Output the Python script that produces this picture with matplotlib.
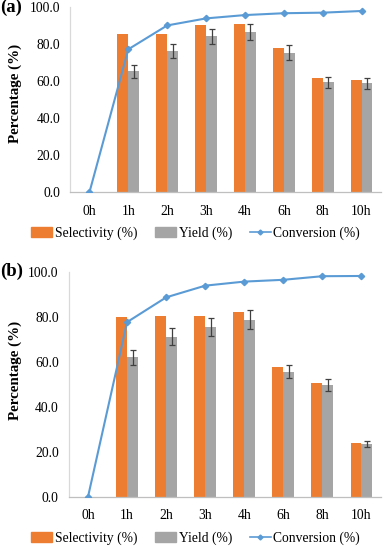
import matplotlib
matplotlib.use("Agg")
import matplotlib.pyplot as plt
import numpy as np
from matplotlib.lines import Line2D
from matplotlib.patches import Patch

plt.rcParams['font.family'] = ['Liberation Serif', 'DejaVu Serif']

categories = ['0h', '1h', '2h', '3h', '4h', '6h', '8h', '10h']

sel_a = [np.nan, 85.5, 85.5, 90.3, 90.8, 77.8, 61.8, 60.6]
yld_a = [np.nan, 65.3, 76.3, 84.3, 86.6, 75.5, 59.5, 59.0]
yld_err_a = [np.nan, 3.5, 3.9, 4.1, 4.3, 4.0, 3.0, 3.0]
conv_a = [0.0, 77.3, 90.2, 94.0, 95.8, 96.8, 97.1, 98.0]

sel_b = [np.nan, 79.7, 80.5, 80.2, 82.2, 57.8, 50.7, 24.0]
yld_b = [np.nan, 62.0, 71.2, 75.5, 78.6, 55.6, 49.8, 23.6]
yld_err_b = [np.nan, 3.4, 3.6, 3.9, 4.2, 2.9, 2.7, 1.3]
conv_b = [0.0, 77.6, 88.6, 93.8, 95.6, 96.4, 98.0, 98.1]

yticks = [0, 20, 40, 60, 80, 100]

ORANGE = '#ED7D31'
GRAY = '#A5A5A5'
BLUE = '#5B9BD5'

W, H = 387, 547
fig = plt.figure(figsize=(W / 100, H / 100), dpi=100)


def panel(rect, sel, yld, err, conv, label, legend_y, ylab_y):
    ax = fig.add_axes(rect)
    x = np.arange(len(categories))
    w = 0.28
    ax.bar(x - w / 2, sel, width=w, color=ORANGE, zorder=2)
    ax.bar(x + w / 2, yld, width=w, color=GRAY, zorder=2)
    ax.errorbar(x + w / 2, yld, yerr=err, fmt='none', ecolor='#404040',
                elinewidth=0.9, capsize=2.5, capthick=0.9, zorder=3)
    ax.plot(x, conv, color=BLUE, lw=1.5, marker='D', ms=3.2,
            markerfacecolor=BLUE, markeredgecolor=BLUE, zorder=4)
    ax.set_xlim(-0.5, len(categories) - 0.5)
    ax.set_ylim(0, 100)
    ax.set_xticks(x)
    ax.set_xticklabels(categories, fontsize=9.8)
    ax.set_yticks(yticks)
    ax.set_yticklabels([f'{v:.1f}' for v in yticks], fontsize=9.8)
    ax.tick_params(axis='x', length=0, pad=9)
    ax.tick_params(axis='y', length=0, pad=7)
    for s in ['top', 'right']:
        ax.spines[s].set_visible(False)
    ax.spines['left'].set_color('#d9d9d9')
    ax.spines['bottom'].set_color('#bfbfbf')
    ax.spines['left'].set_linewidth(0.9)
    ax.spines['bottom'].set_linewidth(0.9)
    ax.set_ylabel('Percentage (%)', fontsize=10.8, fontweight='bold')
    ax.yaxis.set_label_coords(-(rect[0] * W - 22) / (rect[2] * W), ylab_y)
    fig.text(0.0, rect[1] + rect[3] + 0.0, label, fontsize=13.5, fontweight='bold',
             ha='left', va='center')
    handles = [Patch(color=ORANGE), Patch(color=GRAY),
               Line2D([], [], color=BLUE, lw=1.2, marker='D', ms=2.5)]
    fig.legend(handles, ['Selectivity (%)', 'Yield (%)', 'Conversion (%)'],
               loc='center', bbox_to_anchor=(0.505, legend_y), ncol=3,
               frameon=False, fontsize=9.8, handlelength=1.6,
               handletextpad=0.15, columnspacing=1.3, borderaxespad=0)
    return ax


panel([70 / W, 1 - 192.3 / H, (381 - 70) / W, 185 / H], sel_a, yld_a, yld_err_a,
      conv_a, '(a)', 1 - 233 / H, 0.534)
panel([68.5 / W, 1 - 496.7 / H, (381 - 68.5) / W, 225 / H], sel_b, yld_b, yld_err_b,
      conv_b, '(b)', 1 - 538 / H, 0.559)

fig.savefig('out.png', dpi=100)
